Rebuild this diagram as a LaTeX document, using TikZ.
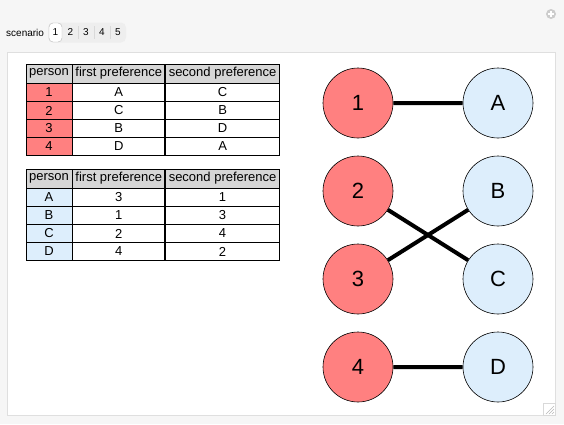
\documentclass[tikz,border=0pt]{standalone}
\usepackage{fontspec}
\setmainfont{Liberation Sans}
\usetikzlibrary{positioning}

\definecolor{personred}{HTML}{FF8080}
\definecolor{partnerblue}{HTML}{DDEEFC}
\definecolor{headgray}{HTML}{D6D6D6}
\definecolor{framebg}{HTML}{F6F6F6}

\begin{document}
\begin{tikzpicture}[
  x=1pt, y=-1pt,
  cell/.style={draw, line width=0.8pt, inner sep=0pt, minimum height=18pt, font=\fontsize{13}{15}\selectfont},
  headcell/.style={cell, fill=headgray, minimum height=19pt},
  redcell/.style={cell, fill=personred},
  bluecell/.style={cell, fill=partnerblue},
  personnode/.style={circle, draw, line width=0.6pt, fill=personred, minimum size=70pt, inner sep=0pt, font=\fontsize{22}{26}\selectfont},
  partnernode/.style={personnode, fill=partnerblue},
  match/.style={line width=4pt},
  btn/.style={inner sep=0pt, minimum width=13pt, minimum height=19pt, font=\fontsize{10}{12}\selectfont}
]
  \useasboundingbox[fill=framebg] (0,0) rectangle (564,424);

  % controls on top
  \node[font=\fontsize{10}{12}\selectfont, anchor=west, inner sep=0pt] (scen) at (6,32.5) {scenario};
  \node[fill=gray!13, rounded corners=5pt, minimum width=78pt, minimum height=20pt, inner sep=0pt] (tabs) at (87,32.5) {};
  \node[btn, draw=gray!55, fill=white, rounded corners=4pt] (b1) at (55.5,32.5) {1};
  \foreach \k/\x in {2/70.5,3/86,4/102,5/118}
    \node[btn] (b\k) at (\x,32.5) {\k};
  \foreach \x in {78,94,110}
    \draw[gray!30] (\x,26) -- (\x,39);
  \node[circle, fill=gray!40, minimum size=10pt, inner sep=0pt] (addbtn) at (551,14) {};
  \draw[white, line width=1.6pt] ([xshift=-3pt]addbtn.center) -- ([xshift=3pt]addbtn.center)
    ([yshift=-3pt]addbtn.center) -- ([yshift=3pt]addbtn.center);

  % panel
  \draw[gray!25, fill=white] (7.5,52.5) rectangle (555.5,415.5);

  % table of persons
  \node[headcell, minimum width=46pt] (ph) at (49,73.5) {person};
  \node[headcell, minimum width=92pt, right=0pt of ph] (fh) {first preference};
  \node[headcell, minimum width=114pt, right=0pt of fh] (sh) {second preference};
  \foreach \p/\a/\b [count=\r] in {1/A/C,2/C/B,3/B/D,4/D/A} {
    \node[redcell, minimum width=46pt] (pp\r) at (49,{74.5+18*\r}) {\p};
    \node[cell, minimum width=92pt, right=0pt of pp\r] (pf\r) {\a};
    \node[cell, minimum width=114pt, right=0pt of pf\r] (ps\r) {\b};
  }

  % table of partners
  \node[headcell, minimum width=46pt] (qh) at (49,178.5) {person};
  \node[headcell, minimum width=92pt, right=0pt of qh] (gh) {first preference};
  \node[headcell, minimum width=114pt, right=0pt of gh] (th) {second preference};
  \foreach \q/\a/\b [count=\r] in {A/3/1,B/1/3,C/2/4,D/4/2} {
    \node[bluecell, minimum width=46pt] (qp\r) at (49,{179.5+18*\r}) {\q};
    \node[cell, minimum width=92pt, right=0pt of qp\r] (qf\r) {\a};
    \node[cell, minimum width=114pt, right=0pt of qf\r] (qs\r) {\b};
  }

  % matching
  \foreach \p/\y in {1/103,2/191,3/279,4/367}
    \node[personnode] (m\p) at (358,\y) {\p};
  \foreach \q/\y in {A/103,B/191,C/279,D/367}
    \node[partnernode] (w\q) at (498,\y) {\q};
  \draw[match] (m1) -- (wA) (m2) -- (wC) (m3) -- (wB) (m4) -- (wD);

  % resize grip
  \draw[gray!30] (543.5,403.5) rectangle (555.5,415.5);
  \draw[gray!55] (546,414) -- (554,406) (549,414) -- (554,409) (552,414) -- (554,412);
\end{tikzpicture}
\end{document}
